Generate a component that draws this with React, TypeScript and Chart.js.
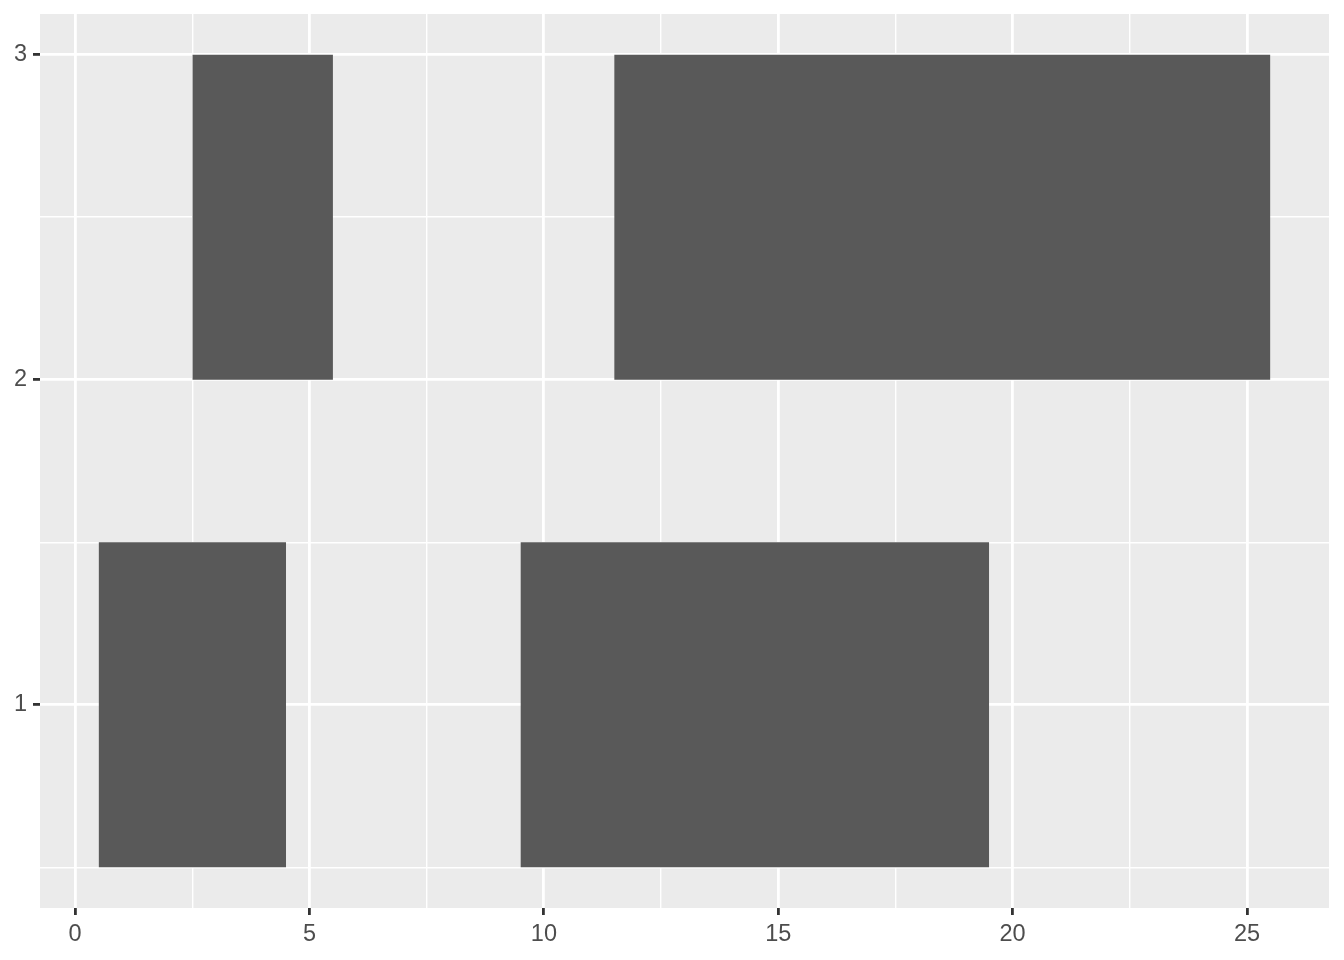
import React, { useEffect, useRef } from "react";
import { Chart, registerables } from "chart.js";

Chart.register(...registerables);

const xmin = [0.5, 9.5, 2.5, 11.5];
const xmax = [4.5, 19.5, 5.5, 25.5];
const ymin = [0.5, 0.5, 2, 2];
const ymax = [1.5, 1.5, 3, 3];

const xTicks = [0, 2.5, 5, 7.5, 10, 12.5, 15, 17.5, 20, 22.5, 25];
const xMajor = [0, 5, 10, 15, 20, 25];
const yTicks = [0.5, 1, 1.5, 2, 2.5, 3];
const yMajor = [1, 2, 3];

const xRange = [-0.75, 26.75];
const yRange = [0.375, 3.125];

const RECT_COLOR = "#595959";
const PANEL_BG = "#EBEBEB";

export default function App() {
  const ref = useRef<HTMLCanvasElement | null>(null);

  useEffect(() => {
    if (!ref.current) return;
    const datasets = xmin.map((x0, i) => ({
      type: "line" as const,
      data: [
        { x: x0, y: ymax[i] },
        { x: xmax[i], y: ymax[i] },
      ],
      fill: { value: ymin[i] },
      backgroundColor: RECT_COLOR,
      borderColor: RECT_COLOR,
      borderWidth: 0,
      pointRadius: 0,
      pointHoverRadius: 0,
      showLine: true,
      tension: 0,
    }));

    const panelBg = {
      id: "panelBg",
      beforeDraw(chart: any) {
        const { ctx, chartArea } = chart;
        ctx.save();
        ctx.fillStyle = PANEL_BG;
        ctx.fillRect(
          chartArea.left,
          chartArea.top,
          chartArea.right - chartArea.left,
          chartArea.bottom - chartArea.top
        );
        ctx.restore();
      },
    };

    const font = { family: "'Liberation Sans', Arial, sans-serif", size: 23.5 };

    const chart = new Chart(ref.current, {
      type: "scatter",
      data: { datasets: datasets as any },
      plugins: [panelBg],
      options: {
        animation: false,
        responsive: false,
        devicePixelRatio: 1,
        layout: { padding: { top: 14, right: 15, left: 0, bottom: 0 } },
        plugins: {
          legend: { display: false },
          tooltip: { enabled: false },
          filler: { propagate: false },
        },
        scales: {
          x: {
            type: "linear",
            min: xRange[0],
            max: xRange[1],
            afterBuildTicks(scale: any) {
              scale.ticks = xTicks.map((v) => ({ value: v }));
            },
            afterFit(scale: any) {
              scale.height = 52;
              scale.paddingLeft = 0;
              scale.paddingRight = 0;
            },
            border: { display: false },
            grid: {
              color: "#FFFFFF",
              lineWidth: (c: any) => (xMajor.includes(c.tick?.value) ? 2.8 : 1.4),
              tickColor: (c: any) =>
                xMajor.includes(c.tick?.value) ? "#333333" : "rgba(0,0,0,0)",
              tickLength: 7,
              tickWidth: 2.8,
            },
            ticks: {
              autoSkip: false,
              maxRotation: 0,
              color: "#4D4D4D",
              font,
              padding: 5,
              callback: (v: any) => (xMajor.includes(Number(v)) ? String(v) : ""),
            },
          },
          y: {
            type: "linear",
            min: yRange[0],
            max: yRange[1],
            afterBuildTicks(scale: any) {
              scale.ticks = yTicks.map((v) => ({ value: v }));
            },
            afterFit(scale: any) {
              scale.width = 40;
              scale.paddingTop = 0;
              scale.paddingBottom = 0;
            },
            border: { display: false },
            grid: {
              color: "#FFFFFF",
              lineWidth: (c: any) => (yMajor.includes(c.tick?.value) ? 2.8 : 1.4),
              tickColor: (c: any) =>
                yMajor.includes(c.tick?.value) ? "#333333" : "rgba(0,0,0,0)",
              tickLength: 7,
              tickWidth: 2.8,
            },
            ticks: {
              autoSkip: false,
              color: "#4D4D4D",
              font,
              padding: 6,
              callback: (v: any) => (yMajor.includes(Number(v)) ? String(v) : ""),
            },
          },
        },
      },
    });
    return () => chart.destroy();
  }, []);

  return (
    <div style={{ position: "absolute", left: 0, top: 0, width: 1344, height: 960, background: "#FFFFFF" }}>
      <canvas ref={ref} width={1344} height={960} style={{ display: "block", width: 1344, height: 960 }} />
    </div>
  );
}
